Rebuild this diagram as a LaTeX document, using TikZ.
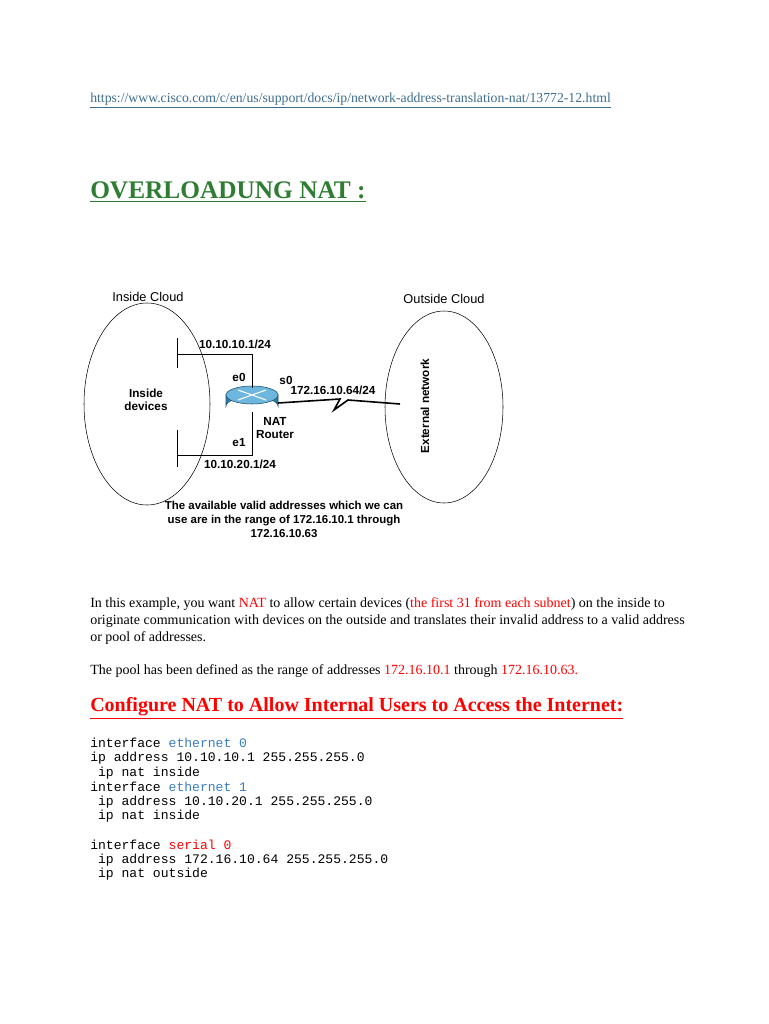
\documentclass[tikz,border=0pt]{standalone}
\usepackage{fontspec}
\setmainfont{Liberation Serif}
\setsansfont{Liberation Sans}
\setmonofont{Liberation Mono}
\usetikzlibrary{positioning}
\definecolor{linkblue}{HTML}{3E6E8E}
\definecolor{titlegreen}{HTML}{2E7D32}
\definecolor{kwblue}{HTML}{3A7DC0}
\definecolor{routerside}{HTML}{2F7FB0}
\definecolor{routertop}{HTML}{6DB6DE}
\begin{document}
\begin{tikzpicture}[x=0.75pt, y=-0.75pt,
  lbl/.style = {font=\sffamily\bfseries\fontsize{8.8}{10}\selectfont, inner sep=0pt},
  txt/.style = {anchor=west, inner sep=0pt, font=\fontsize{10.5}{12}\selectfont},
  code/.style = {anchor=west, inner sep=0pt, font=\ttfamily\fontsize{9.8}{11}\selectfont},
  cloud/.style = {draw, thin}]
\useasboundingbox[fill=white] (0,0) rectangle (768,1024);
% header
\node[txt, text=linkblue, font=\fontsize{10.3}{12}\selectfont] (url) at (90,101)
  {\underline{https://www.cisco.com/c/en/us/support/docs/ip/network-address-translation-nat/13772-12.html}};
\node[txt, text=titlegreen, font=\bfseries\fontsize{19}{22}\selectfont] (title) at (90,192)
  {\underline{OVERLOADUNG NAT :}};
% clouds
\draw[cloud] (147,404) ellipse [x radius=63, y radius=101];
\draw[cloud] (444,407) ellipse [x radius=59, y radius=96];
\node[lbl, font=\sffamily\fontsize{9.6}{11}\selectfont] (incloud) at (148,297) {Inside Cloud};
\node[lbl, font=\sffamily\fontsize{9.6}{11}\selectfont] (outcloud) at (444,299) {Outside Cloud};
\node[lbl, align=center] (indev) at (146,400) {Inside\\devices};
\node[lbl, rotate=90] (extnet) at (425,406) {External network};
% router
\coordinate (rt) at (252,388);
\coordinate (rb) at (252,412);
\fill[routerside, draw=routerside!60!black, thin] (226,395) -- (226,406) arc[start angle=180, end angle=360, x radius=26, y radius=9] -- (278,395) -- cycle;
\fill[routertop, draw=routerside!60!black, thin] (252,395) ellipse [x radius=26, y radius=9];
\draw[white, thick] (238,390) -- (266,400) (238,400) -- (266,390);
\coordinate (rr) at (278,403);
% segments
\coordinate (e0a) at (177,338);
\coordinate (e0b) at (177,368);
\coordinate (e1a) at (177,430);
\coordinate (e1b) at (177,467);
\draw (e0a) -- (e0b);
\draw (e1a) -- (e1b);
\draw (177,354) -| (rt);
\draw (177,455) -| (rb);
% serial link
\coordinate (ext) at (400,404);
\draw[line width=1.2pt, line join=miter] (rr) -- (340,399) -- (334,410) -- (348,400) -- (ext);
\node[lbl] (ip0) at (235,344) {10.10.10.1/24};
\node[lbl] (e0) at (239,377) {e0};
\node[lbl] (s0) at (286,380) {s0};
\node[lbl] (ips0) at (333,390) {172.16.10.64/24};
\node[lbl, align=center] (nat) at (275,428) {NAT\\Router};
\node[lbl] (e1) at (239,443) {e1};
\node[lbl] (ip1) at (240,464) {10.10.20.1/24};
\node[lbl, align=center, font=\sffamily\bfseries\fontsize{8.6}{10.5}\selectfont] (cap) at (284,519)
  {The available valid addresses which we can\\use are in the range of 172.16.10.1 through\\172.16.10.63};
% text
\node[txt] (p1) at (90,604) {In this example, you want \textcolor{red}{NAT} to allow certain devices (\textcolor{red}{the first 31 from each subnet}) on the inside to};
\node[txt] (p2) at (90,621) {originate communication with devices on the outside and translates their invalid address to a valid address};
\node[txt] (p3) at (90,638) {or pool of addresses.};
\node[txt] (p4) at (90,671) {The pool has been defined as the range of addresses \textcolor{red}{172.16.10.1} through \textcolor{red}{172.16.10.63.}};
\node[txt, text=red, font=\bfseries\fontsize{15}{18}\selectfont] (head) at (90,708)
  {\underline{Configure NAT to Allow Internal Users to Access the Internet:}};
% config
\foreach \y/\t in {743/{interface \textcolor{kwblue}{ethernet 0}},
                   758/{ip address 10.10.10.1 255.255.255.0},
                   773/{\ ip nat inside},
                   787/{interface \textcolor{kwblue}{ethernet 1}},
                   802/{\ ip address 10.10.20.1 255.255.255.0},
                   816/{\ ip nat inside},
                   845/{interface \textcolor{red}{serial 0}},
                   860/{\ ip address 172.16.10.64 255.255.255.0},
                   874/{\ ip nat outside}}
  \node[code] at (90,\y) {\t};
\end{tikzpicture}
\end{document}
